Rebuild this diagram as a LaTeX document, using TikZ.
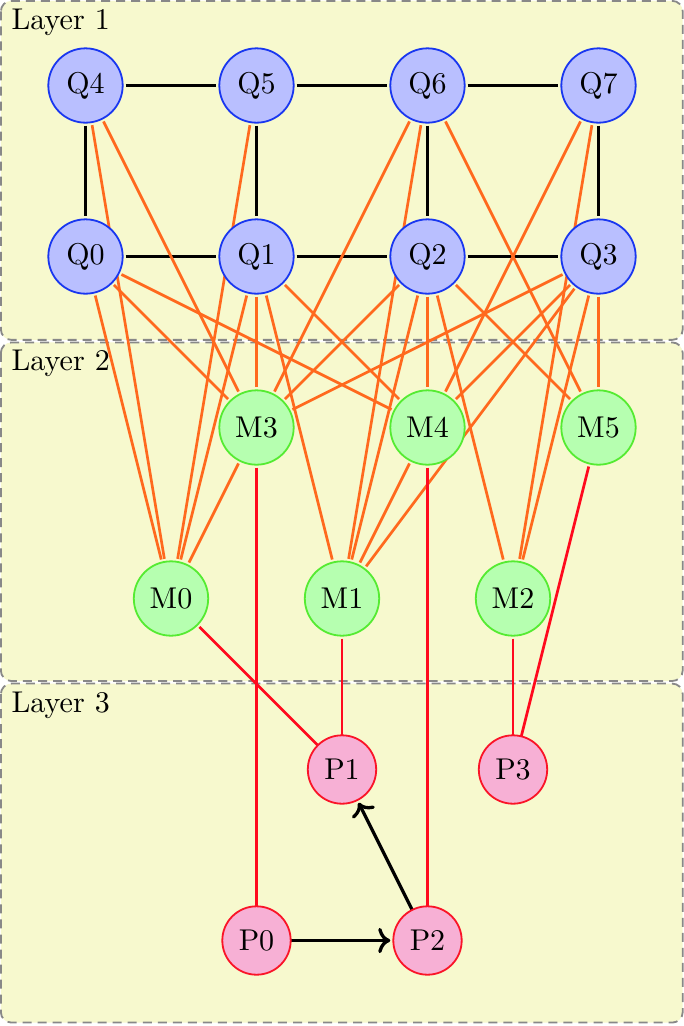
\documentclass[tikz,border=0pt]{standalone}
\usetikzlibrary{arrows.meta}
\definecolor{layerfill}{RGB}{247,249,206}
\definecolor{layerdraw}{RGB}{136,136,136}
\definecolor{qfill}{RGB}{185,191,255}
\definecolor{qdraw}{RGB}{25,55,240}
\definecolor{mfill}{RGB}{182,255,176}
\definecolor{mdraw}{RGB}{85,235,50}
\definecolor{pfill}{RGB}{247,176,213}
\definecolor{pdraw}{RGB}{250,20,40}
\definecolor{qmedge}{RGB}{255,105,30}
\definecolor{mpedge}{RGB}{255,10,30}
\pgfdeclarelayer{bg}
\pgfdeclarelayer{edges}
\pgfsetlayers{bg,edges,main}
\begin{document}
\begin{tikzpicture}[
  qnode/.style={circle,draw=qdraw,fill=qfill,line width=0.6pt,minimum size=0.87cm,inner sep=0pt,outer sep=1pt},
  mnode/.style={circle,draw=mdraw,fill=mfill,line width=0.6pt,minimum size=0.87cm,inner sep=0pt,outer sep=1pt},
  pnode/.style={circle,draw=pdraw,fill=pfill,line width=0.6pt,minimum size=0.8cm,inner sep=0pt,outer sep=0pt},
  layerbox/.style={draw=layerdraw,fill=layerfill,line width=0.6pt,dash pattern=on 3pt off 2pt,rounded corners=3.5pt},
  layerlabel/.style={anchor=base west,inner sep=0pt},
  coupling/.style={black,line width=1.1pt},
  qmlink/.style={qmedge,line width=0.9pt},
  mplink/.style={mpedge,line width=0.9pt},
  flow/.style={black,line width=1.1pt,->,shorten >=1pt}
]
\useasboundingbox (0,0) rectangle (8,-12);

% layer boxes
\begin{pgfonlayer}{bg}
\draw[layerbox] (0.01,-0.01) rectangle (7.985,-3.975);
\draw[layerbox] (0.01,-4.005) rectangle (7.985,-7.965);
\draw[layerbox] (0.01,-7.995) rectangle (7.985,-11.96);
\end{pgfonlayer}
\node[layerlabel] (L1) at (0.13,-0.343) {Layer 1};
\node[layerlabel] (L2) at (0.13,-4.335) {Layer 2};
\node[layerlabel] (L3) at (0.13,-8.335) {Layer 3};

% Layer 1
\node[qnode] (Q4) at (1,-1) {Q4};
\node[qnode] (Q5) at (3,-1) {Q5};
\node[qnode] (Q6) at (5,-1) {Q6};
\node[qnode] (Q7) at (7,-1) {Q7};
\node[qnode] (Q0) at (1,-3) {Q0};
\node[qnode] (Q1) at (3,-3) {Q1};
\node[qnode] (Q2) at (5,-3) {Q2};
\node[qnode] (Q3) at (7,-3) {Q3};

% Layer 2
\node[mnode] (M3) at (3,-5) {M3};
\node[mnode] (M4) at (5,-5) {M4};
\node[mnode] (M5) at (7,-5) {M5};
\node[mnode] (M0) at (2,-7) {M0};
\node[mnode] (M1) at (4,-7) {M1};
\node[mnode] (M2) at (6,-7) {M2};

% Layer 3
\node[pnode] (P1) at (4,-9) {P1};
\node[pnode] (P3) at (6,-9) {P3};
\node[pnode] (P0) at (3,-11) {P0};
\node[pnode] (P2) at (5,-11) {P2};

\begin{pgfonlayer}{edges}
% couplings
\draw[coupling] (Q4) -- (Q5);
\draw[coupling] (Q5) -- (Q6);
\draw[coupling] (Q6) -- (Q7);
\draw[coupling] (Q0) -- (Q1);
\draw[coupling] (Q1) -- (Q2);
\draw[coupling] (Q2) -- (Q3);
\draw[coupling] (Q4) -- (Q0);
\draw[coupling] (Q5) -- (Q1);
\draw[coupling] (Q6) -- (Q2);
\draw[coupling] (Q7) -- (Q3);
% Q-M links
\draw[qmlink] (Q4) -- (M0);
\draw[qmlink] (Q4) -- (M3);
\draw[qmlink] (Q5) -- (M0);
\draw[qmlink] (Q6) -- (M3);
\draw[qmlink] (Q6) -- (M1);
\draw[qmlink] (Q6) -- (M5);
\draw[qmlink] (Q7) -- (M4);
\draw[qmlink] (Q7) -- (M2);
\draw[qmlink] (Q0) -- (M0);
\draw[qmlink] (Q0) -- (M3);
\draw[qmlink] (Q0) -- (M4);
\draw[qmlink] (Q1) -- (M0);
\draw[qmlink] (Q1) -- (M3);
\draw[qmlink] (Q1) -- (M1);
\draw[qmlink] (Q1) -- (M4);
\draw[qmlink] (Q2) -- (M3);
\draw[qmlink] (Q2) -- (M1);
\draw[qmlink] (Q2) -- (M4);
\draw[qmlink] (Q2) -- (M2);
\draw[qmlink] (Q2) -- (M5);
\draw[qmlink] (Q3) -- (M3);
\draw[qmlink] (Q3) -- (M4);
\draw[qmlink] (Q3) -- (M1);
\draw[qmlink] (Q3) -- (M2);
\draw[qmlink] (Q3) -- (M5);
\draw[qmlink] (M3) -- (M0);
\draw[qmlink] (M4) -- (M1);
% M-P links
\draw[mplink] (M0) -- (P1);
\draw[mplink] (M1) -- (P1);
\draw[mplink] (M2) -- (P3);
\draw[mplink] (M5) -- (P3);
\draw[mplink] (M3) -- (P0);
\draw[mplink] (M4) -- (P2);
% flow arrows
\draw[flow] (P0) -- (P2);
\draw[flow] (P2) -- (P1);
\end{pgfonlayer}
\end{tikzpicture}
\end{document}
